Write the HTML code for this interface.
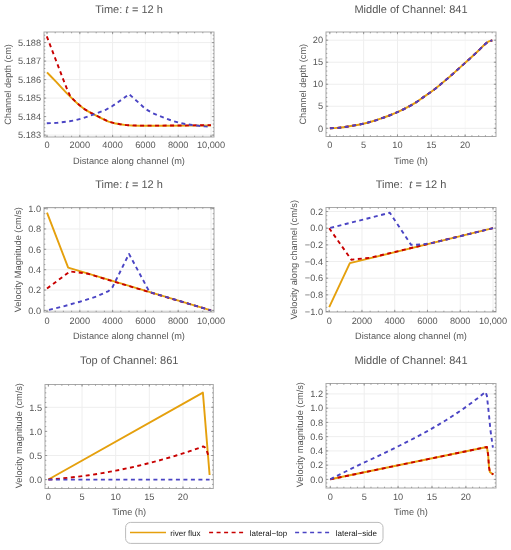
<!DOCTYPE html>
<html><head><meta charset="utf-8"><style>
html,body{margin:0;padding:0;background:#fff;}
svg{display:block;text-rendering:geometricPrecision;}
.t{font-family:'Liberation Sans', Arial, sans-serif;font-size:9.2px;fill:#555555;}
.h{font-family:'Liberation Sans', Arial, sans-serif;font-size:11px;fill:#555555;}
.it{font-family:'Liberation Serif',serif;font-style:italic;font-size:12.5px;}
.l{font-family:'Liberation Sans', Arial, sans-serif;font-size:8px;fill:#111;}
</style></head><body>
<svg width="511" height="550" viewBox="0 0 511 550">
<rect width="511" height="550" fill="#fff"/>
<line x1="79.8" y1="32" x2="79.8" y2="137" stroke="#EEEEEE" stroke-width="1"/>
<line x1="112.6" y1="32" x2="112.6" y2="137" stroke="#EEEEEE" stroke-width="1"/>
<line x1="145.4" y1="32" x2="145.4" y2="137" stroke="#F6F6F6" stroke-width="1"/>
<line x1="178.2" y1="32" x2="178.2" y2="137" stroke="#F7F7F7" stroke-width="1"/>
<line x1="211" y1="32" x2="211" y2="137" stroke="#EEEEEE" stroke-width="1"/>
<line x1="44" y1="135.1" x2="214" y2="135.1" stroke="#EEEEEE" stroke-width="1"/>
<line x1="44" y1="98.1" x2="214" y2="98.1" stroke="#EEEEEE" stroke-width="1"/>
<line x1="44" y1="79.6" x2="214" y2="79.6" stroke="#EEEEEE" stroke-width="1"/>
<line x1="44" y1="61.1" x2="214" y2="61.1" stroke="#EEEEEE" stroke-width="1"/>
<line x1="44" y1="42.6" x2="214" y2="42.6" stroke="#EEEEEE" stroke-width="1"/>
<polyline points="47,72.3 51,76.5 56.7,82.3 61.5,87.6 66.9,93.4 71,97.4 75.8,102 80,105.8 85,109.6 90.9,112.9 96.7,115.8 102.6,118.8 108.5,121.7 114.3,123.2 120.2,124.3 126.1,125.1 132,125.5 140,125.7 160,125.7 190,125.6 211,125.5" fill="none" stroke="#E5A00D" stroke-width="1.9" stroke-linejoin="round"/>
<polyline points="46.8,36.4 63.1,79.1 67.6,90.6 70,95.5 71,97.2 75.8,101.8 80,105.6 85,109.4 90.9,112.8 96.7,115.7 102.6,118.7 108.5,121.6 114.3,123.1 120.2,124.2 126.1,125 132,125.4 140,125.6 160,125.6 190,125.4 211,125.1" fill="none" stroke="#C80000" stroke-width="1.9" stroke-linejoin="round" stroke-dasharray="4.0,3.5"/>
<polyline points="46.8,123.3 56.7,122.9 69.5,121.3 76,120.1 82.2,118.4 88,116.5 92.4,114.9 99.1,112.3 106.1,109.6 112,106.3 117.9,102.3 123.7,98.2 129,94.1 134.3,98.8 140.2,104.1 145,108.6 151.6,112.6 158.3,115.5 165,118.2 171.8,120.6 178.5,122.6 185.2,124 192,125 198.7,125.8 205,126.4 211,126.8" fill="none" stroke="#4A44C4" stroke-width="1.9" stroke-linejoin="round" stroke-dasharray="4.0,3.5"/>
<rect x="44" y="32" width="170" height="105" fill="none" stroke="#A8A8A8" stroke-width="1"/>
<path d="M47,137v-2.2M47,32v2.2M79.8,137v-2.2M79.8,32v2.2M112.6,137v-2.2M112.6,32v2.2M145.4,137v-2.2M145.4,32v2.2M178.2,137v-2.2M178.2,32v2.2M211,137v-2.2M211,32v2.2M47,137v-1.3M47,32v1.3M55.2,137v-1.3M55.2,32v1.3M63.4,137v-1.3M63.4,32v1.3M71.6,137v-1.3M71.6,32v1.3M79.8,137v-1.3M79.8,32v1.3M88,137v-1.3M88,32v1.3M96.2,137v-1.3M96.2,32v1.3M104.4,137v-1.3M104.4,32v1.3M112.6,137v-1.3M112.6,32v1.3M120.8,137v-1.3M120.8,32v1.3M129,137v-1.3M129,32v1.3M137.2,137v-1.3M137.2,32v1.3M145.4,137v-1.3M145.4,32v1.3M153.6,137v-1.3M153.6,32v1.3M161.8,137v-1.3M161.8,32v1.3M170,137v-1.3M170,32v1.3M178.2,137v-1.3M178.2,32v1.3M186.4,137v-1.3M186.4,32v1.3M194.6,137v-1.3M194.6,32v1.3M202.8,137v-1.3M202.8,32v1.3M211,137v-1.3M211,32v1.3M44,135.1h2.2M214,135.1h-2.2M44,116.6h2.2M214,116.6h-2.2M44,98.1h2.2M214,98.1h-2.2M44,79.6h2.2M214,79.6h-2.2M44,61.1h2.2M214,61.1h-2.2M44,42.6h2.2M214,42.6h-2.2M44,135.1h1.3M214,135.1h-1.3M44,131.4h1.3M214,131.4h-1.3M44,127.7h1.3M214,127.7h-1.3M44,124h1.3M214,124h-1.3M44,120.3h1.3M214,120.3h-1.3M44,116.6h1.3M214,116.6h-1.3M44,112.9h1.3M214,112.9h-1.3M44,109.2h1.3M214,109.2h-1.3M44,105.5h1.3M214,105.5h-1.3M44,101.8h1.3M214,101.8h-1.3M44,98.1h1.3M214,98.1h-1.3M44,94.4h1.3M214,94.4h-1.3M44,90.7h1.3M214,90.7h-1.3M44,87h1.3M214,87h-1.3M44,83.3h1.3M214,83.3h-1.3M44,79.6h1.3M214,79.6h-1.3M44,75.9h1.3M214,75.9h-1.3M44,72.2h1.3M214,72.2h-1.3M44,68.5h1.3M214,68.5h-1.3M44,64.8h1.3M214,64.8h-1.3M44,61.1h1.3M214,61.1h-1.3M44,57.4h1.3M214,57.4h-1.3M44,53.7h1.3M214,53.7h-1.3M44,50h1.3M214,50h-1.3M44,46.3h1.3M214,46.3h-1.3M44,42.6h1.3M214,42.6h-1.3M44,38.9h1.3M214,38.9h-1.3M44,35.2h1.3M214,35.2h-1.3" stroke="#8C8C8C" stroke-width="0.8" fill="none"/>
<text x="47" y="148" text-anchor="middle" class="t">0</text>
<text x="79.8" y="148" text-anchor="middle" class="t">2000</text>
<text x="112.6" y="148" text-anchor="middle" class="t">4000</text>
<text x="145.4" y="148" text-anchor="middle" class="t">6000</text>
<text x="178.2" y="148" text-anchor="middle" class="t">8000</text>
<text x="211" y="148" text-anchor="middle" class="t">10,000</text>
<text x="41.0" y="138.3" text-anchor="end" class="t">5.183</text>
<text x="41.0" y="119.8" text-anchor="end" class="t">5.184</text>
<text x="41.0" y="101.3" text-anchor="end" class="t">5.185</text>
<text x="41.0" y="82.8" text-anchor="end" class="t">5.186</text>
<text x="41.0" y="64.3" text-anchor="end" class="t">5.187</text>
<text x="41.0" y="45.8" text-anchor="end" class="t">5.188</text>
<text x="129" y="163.7" text-anchor="middle" class="t">Distance along channel (m)</text>
<text transform="translate(10.8,84.5) rotate(-90)" text-anchor="middle" class="t">Channel depth (cm)</text>
<text x="129" y="12.6" text-anchor="middle" class="h">Time: <tspan class='it'>t</tspan> = 12 h</text>
<line x1="363.63" y1="32" x2="363.63" y2="136.5" stroke="#EEEEEE" stroke-width="1"/>
<line x1="397.47" y1="32" x2="397.47" y2="136.5" stroke="#EEEEEE" stroke-width="1"/>
<line x1="431.3" y1="32" x2="431.3" y2="136.5" stroke="#F4F4F4" stroke-width="1"/>
<line x1="465.13" y1="32" x2="465.13" y2="136.5" stroke="#F8F8F8" stroke-width="1"/>
<line x1="326" y1="128.3" x2="496" y2="128.3" stroke="#EEEEEE" stroke-width="1"/>
<line x1="326" y1="106.28" x2="496" y2="106.28" stroke="#EEEEEE" stroke-width="1"/>
<line x1="326" y1="84.25" x2="496" y2="84.25" stroke="#EEEEEE" stroke-width="1"/>
<line x1="326" y1="62.23" x2="496" y2="62.23" stroke="#EEEEEE" stroke-width="1"/>
<line x1="326" y1="40.2" x2="496" y2="40.2" stroke="#EEEEEE" stroke-width="1"/>
<path d="M329.9,128.3C331.02,128.23 334.32,128.08 336.6,127.9C338.88,127.72 340.97,127.55 343.6,127.2C346.23,126.85 349.12,126.38 352.4,125.8C355.68,125.22 360.07,124.42 363.3,123.7C366.53,122.98 368.92,122.33 371.8,121.5C374.68,120.67 377.67,119.7 380.6,118.7C383.53,117.7 386.62,116.58 389.4,115.5C392.18,114.42 394.65,113.38 397.3,112.2C399.95,111.02 402.18,110.03 405.3,108.4C408.42,106.77 412.92,104.32 416,102.4C419.08,100.48 421.2,98.72 423.8,96.9C426.4,95.08 428.98,93.45 431.6,91.5C434.22,89.55 436.88,87.32 439.5,85.2C442.12,83.08 444.7,81.02 447.3,78.8C449.9,76.58 452.5,74.22 455.1,71.9C457.7,69.58 460.28,67.25 462.9,64.9C465.52,62.55 468.18,60.2 470.8,57.8C473.42,55.4 476.33,52.67 478.6,50.5C480.87,48.33 482.87,46.22 484.4,44.8C485.93,43.38 486.78,42.67 487.8,42C488.82,41.33 489.75,41.05 490.5,40.8C491.25,40.55 492,40.55 492.3,40.5" fill="none" stroke="#E5A00D" stroke-width="1.9" stroke-linejoin="round"/>
<path d="M329.9,128.3C331.02,128.23 334.32,128.08 336.6,127.9C338.88,127.72 340.97,127.55 343.6,127.2C346.23,126.85 349.12,126.38 352.4,125.8C355.68,125.22 360.07,124.42 363.3,123.7C366.53,122.98 368.92,122.33 371.8,121.5C374.68,120.67 377.67,119.7 380.6,118.7C383.53,117.7 386.62,116.58 389.4,115.5C392.18,114.42 394.65,113.38 397.3,112.2C399.95,111.02 402.18,110.03 405.3,108.4C408.42,106.77 412.92,104.32 416,102.4C419.08,100.48 421.2,98.72 423.8,96.9C426.4,95.08 428.98,93.45 431.6,91.5C434.22,89.55 436.88,87.32 439.5,85.2C442.12,83.08 444.7,81.02 447.3,78.8C449.9,76.58 452.5,74.22 455.1,71.9C457.7,69.58 460.28,67.25 462.9,64.9C465.52,62.55 468.18,60.2 470.8,57.8C473.42,55.4 476.33,52.67 478.6,50.5C480.87,48.33 482.87,46.22 484.4,44.8C485.93,43.38 486.78,42.67 487.8,42C488.82,41.33 489.75,41.05 490.5,40.8C491.25,40.55 492,40.55 492.3,40.5" fill="none" stroke="#C80000" stroke-width="1.9" stroke-linejoin="round" stroke-dasharray="4.0,3.5"/>
<path d="M329.9,128.3C331.02,128.23 334.32,128.08 336.6,127.9C338.88,127.72 340.97,127.55 343.6,127.2C346.23,126.85 349.12,126.38 352.4,125.8C355.68,125.22 360.07,124.42 363.3,123.7C366.53,122.98 368.92,122.33 371.8,121.5C374.68,120.67 377.67,119.7 380.6,118.7C383.53,117.7 386.62,116.58 389.4,115.5C392.18,114.42 394.65,113.38 397.3,112.2C399.95,111.02 402.18,110.03 405.3,108.4C408.42,106.77 412.92,104.32 416,102.4C419.08,100.48 421.2,98.72 423.8,96.9C426.4,95.08 428.98,93.45 431.6,91.5C434.22,89.55 436.88,87.32 439.5,85.2C442.12,83.08 444.7,81.02 447.3,78.8C449.9,76.58 452.5,74.22 455.1,71.9C457.7,69.58 460.28,67.25 462.9,64.9C465.52,62.55 468.18,60.2 470.8,57.8C473.42,55.4 476.33,52.67 478.6,50.5C480.87,48.33 482.87,46.22 484.4,44.8C485.93,43.38 486.78,42.67 487.8,42C488.82,41.33 489.75,41.05 490.5,40.8C491.25,40.55 492,40.55 492.3,40.5" fill="none" stroke="#4A44C4" stroke-width="1.9" stroke-linejoin="round" stroke-dasharray="4.0,3.5"/>
<rect x="326" y="32" width="170" height="104.5" fill="none" stroke="#A8A8A8" stroke-width="1"/>
<path d="M329.8,136.5v-2.2M329.8,32v2.2M363.63,136.5v-2.2M363.63,32v2.2M397.47,136.5v-2.2M397.47,32v2.2M431.3,136.5v-2.2M431.3,32v2.2M465.13,136.5v-2.2M465.13,32v2.2M329.8,136.5v-1.3M329.8,32v1.3M336.57,136.5v-1.3M336.57,32v1.3M343.33,136.5v-1.3M343.33,32v1.3M350.1,136.5v-1.3M350.1,32v1.3M356.87,136.5v-1.3M356.87,32v1.3M363.63,136.5v-1.3M363.63,32v1.3M370.4,136.5v-1.3M370.4,32v1.3M377.17,136.5v-1.3M377.17,32v1.3M383.93,136.5v-1.3M383.93,32v1.3M390.7,136.5v-1.3M390.7,32v1.3M397.47,136.5v-1.3M397.47,32v1.3M404.23,136.5v-1.3M404.23,32v1.3M411,136.5v-1.3M411,32v1.3M417.77,136.5v-1.3M417.77,32v1.3M424.53,136.5v-1.3M424.53,32v1.3M431.3,136.5v-1.3M431.3,32v1.3M438.07,136.5v-1.3M438.07,32v1.3M444.83,136.5v-1.3M444.83,32v1.3M451.6,136.5v-1.3M451.6,32v1.3M458.37,136.5v-1.3M458.37,32v1.3M465.13,136.5v-1.3M465.13,32v1.3M471.9,136.5v-1.3M471.9,32v1.3M478.67,136.5v-1.3M478.67,32v1.3M485.43,136.5v-1.3M485.43,32v1.3M492.2,136.5v-1.3M492.2,32v1.3M326,128.3h2.2M496,128.3h-2.2M326,106.28h2.2M496,106.28h-2.2M326,84.25h2.2M496,84.25h-2.2M326,62.23h2.2M496,62.23h-2.2M326,40.2h2.2M496,40.2h-2.2M326,132.71h1.3M496,132.71h-1.3M326,128.3h1.3M496,128.3h-1.3M326,123.9h1.3M496,123.9h-1.3M326,119.49h1.3M496,119.49h-1.3M326,115.09h1.3M496,115.09h-1.3M326,110.68h1.3M496,110.68h-1.3M326,106.28h1.3M496,106.28h-1.3M326,101.87h1.3M496,101.87h-1.3M326,97.47h1.3M496,97.47h-1.3M326,93.06h1.3M496,93.06h-1.3M326,88.66h1.3M496,88.66h-1.3M326,84.25h1.3M496,84.25h-1.3M326,79.84h1.3M496,79.84h-1.3M326,75.44h1.3M496,75.44h-1.3M326,71.04h1.3M496,71.04h-1.3M326,66.63h1.3M496,66.63h-1.3M326,62.23h1.3M496,62.23h-1.3M326,57.82h1.3M496,57.82h-1.3M326,53.42h1.3M496,53.42h-1.3M326,49.01h1.3M496,49.01h-1.3M326,44.61h1.3M496,44.61h-1.3M326,40.2h1.3M496,40.2h-1.3M326,35.8h1.3M496,35.8h-1.3" stroke="#8C8C8C" stroke-width="0.8" fill="none"/>
<text x="329.8" y="148" text-anchor="middle" class="t">0</text>
<text x="363.63" y="148" text-anchor="middle" class="t">5</text>
<text x="397.47" y="148" text-anchor="middle" class="t">10</text>
<text x="431.3" y="148" text-anchor="middle" class="t">15</text>
<text x="465.13" y="148" text-anchor="middle" class="t">20</text>
<text x="323.0" y="131.5" text-anchor="end" class="t">0</text>
<text x="323.0" y="109.48" text-anchor="end" class="t">5</text>
<text x="323.0" y="87.45" text-anchor="end" class="t">10</text>
<text x="323.0" y="65.43" text-anchor="end" class="t">15</text>
<text x="323.0" y="43.4" text-anchor="end" class="t">20</text>
<text x="411" y="163.7" text-anchor="middle" class="t">Time (h)</text>
<text transform="translate(305.6,84.25) rotate(-90)" text-anchor="middle" class="t">Channel depth (cm)</text>
<text x="411" y="12.6" text-anchor="middle" class="h">Middle of Channel: 841</text>
<line x1="79.8" y1="207.5" x2="79.8" y2="312" stroke="#EEEEEE" stroke-width="1"/>
<line x1="112.6" y1="207.5" x2="112.6" y2="312" stroke="#EEEEEE" stroke-width="1"/>
<line x1="145.4" y1="207.5" x2="145.4" y2="312" stroke="#F6F6F6" stroke-width="1"/>
<line x1="178.2" y1="207.5" x2="178.2" y2="312" stroke="#F7F7F7" stroke-width="1"/>
<line x1="211" y1="207.5" x2="211" y2="312" stroke="#EEEEEE" stroke-width="1"/>
<line x1="44" y1="310.4" x2="214" y2="310.4" stroke="#EEEEEE" stroke-width="1"/>
<line x1="44" y1="290.04" x2="214" y2="290.04" stroke="#EEEEEE" stroke-width="1"/>
<line x1="44" y1="269.68" x2="214" y2="269.68" stroke="#EEEEEE" stroke-width="1"/>
<line x1="44" y1="249.32" x2="214" y2="249.32" stroke="#EEEEEE" stroke-width="1"/>
<line x1="44" y1="228.96" x2="214" y2="228.96" stroke="#EEEEEE" stroke-width="1"/>
<line x1="44" y1="208.6" x2="214" y2="208.6" stroke="#EEEEEE" stroke-width="1"/>
<polyline points="47,212.67 68.16,267.64 211,310.4" fill="none" stroke="#E5A00D" stroke-width="1.9" stroke-linejoin="round"/>
<polyline points="47,288.51 69.96,271.41 88,273.75 112.6,281.22 211,310.4" fill="none" stroke="#C80000" stroke-width="1.9" stroke-linejoin="round" stroke-dasharray="4.0,3.5"/>
<polyline points="47,310.4 63.4,306.33 79.8,301.75 96.2,296.66 108.5,291.06 112.6,286.99 129,253.9 149.5,291.97 211,310.4" fill="none" stroke="#4A44C4" stroke-width="1.9" stroke-linejoin="round" stroke-dasharray="4.0,3.5" stroke-dashoffset="5.46"/>
<rect x="44" y="207.5" width="170" height="104.5" fill="none" stroke="#A8A8A8" stroke-width="1"/>
<path d="M47,312v-2.2M47,207.5v2.2M79.8,312v-2.2M79.8,207.5v2.2M112.6,312v-2.2M112.6,207.5v2.2M145.4,312v-2.2M145.4,207.5v2.2M178.2,312v-2.2M178.2,207.5v2.2M211,312v-2.2M211,207.5v2.2M47,312v-1.3M47,207.5v1.3M55.2,312v-1.3M55.2,207.5v1.3M63.4,312v-1.3M63.4,207.5v1.3M71.6,312v-1.3M71.6,207.5v1.3M79.8,312v-1.3M79.8,207.5v1.3M88,312v-1.3M88,207.5v1.3M96.2,312v-1.3M96.2,207.5v1.3M104.4,312v-1.3M104.4,207.5v1.3M112.6,312v-1.3M112.6,207.5v1.3M120.8,312v-1.3M120.8,207.5v1.3M129,312v-1.3M129,207.5v1.3M137.2,312v-1.3M137.2,207.5v1.3M145.4,312v-1.3M145.4,207.5v1.3M153.6,312v-1.3M153.6,207.5v1.3M161.8,312v-1.3M161.8,207.5v1.3M170,312v-1.3M170,207.5v1.3M178.2,312v-1.3M178.2,207.5v1.3M186.4,312v-1.3M186.4,207.5v1.3M194.6,312v-1.3M194.6,207.5v1.3M202.8,312v-1.3M202.8,207.5v1.3M211,312v-1.3M211,207.5v1.3M44,310.4h2.2M214,310.4h-2.2M44,290.04h2.2M214,290.04h-2.2M44,269.68h2.2M214,269.68h-2.2M44,249.32h2.2M214,249.32h-2.2M44,228.96h2.2M214,228.96h-2.2M44,208.6h2.2M214,208.6h-2.2M44,310.4h1.3M214,310.4h-1.3M44,305.31h1.3M214,305.31h-1.3M44,300.22h1.3M214,300.22h-1.3M44,295.13h1.3M214,295.13h-1.3M44,290.04h1.3M214,290.04h-1.3M44,284.95h1.3M214,284.95h-1.3M44,279.86h1.3M214,279.86h-1.3M44,274.77h1.3M214,274.77h-1.3M44,269.68h1.3M214,269.68h-1.3M44,264.59h1.3M214,264.59h-1.3M44,259.5h1.3M214,259.5h-1.3M44,254.41h1.3M214,254.41h-1.3M44,249.32h1.3M214,249.32h-1.3M44,244.23h1.3M214,244.23h-1.3M44,239.14h1.3M214,239.14h-1.3M44,234.05h1.3M214,234.05h-1.3M44,228.96h1.3M214,228.96h-1.3M44,223.87h1.3M214,223.87h-1.3M44,218.78h1.3M214,218.78h-1.3M44,213.69h1.3M214,213.69h-1.3M44,208.6h1.3M214,208.6h-1.3" stroke="#8C8C8C" stroke-width="0.8" fill="none"/>
<text x="47" y="323.5" text-anchor="middle" class="t">0</text>
<text x="79.8" y="323.5" text-anchor="middle" class="t">2000</text>
<text x="112.6" y="323.5" text-anchor="middle" class="t">4000</text>
<text x="145.4" y="323.5" text-anchor="middle" class="t">6000</text>
<text x="178.2" y="323.5" text-anchor="middle" class="t">8000</text>
<text x="211" y="323.5" text-anchor="middle" class="t">10,000</text>
<text x="41.0" y="313.6" text-anchor="end" class="t">0.0</text>
<text x="41.0" y="293.24" text-anchor="end" class="t">0.2</text>
<text x="41.0" y="272.88" text-anchor="end" class="t">0.4</text>
<text x="41.0" y="252.52" text-anchor="end" class="t">0.6</text>
<text x="41.0" y="232.16" text-anchor="end" class="t">0.8</text>
<text x="41.0" y="211.8" text-anchor="end" class="t">1.0</text>
<text x="129" y="339.4" text-anchor="middle" class="t">Distance along channel (m)</text>
<text transform="translate(21,259.75) rotate(-90)" text-anchor="middle" class="t">Velocity Magnitude (cm/s)</text>
<text x="129" y="187.9" text-anchor="middle" class="h">Time: <tspan class='it'>t</tspan> = 12 h</text>
<line x1="361.96" y1="207.5" x2="361.96" y2="312" stroke="#EEEEEE" stroke-width="1"/>
<line x1="394.72" y1="207.5" x2="394.72" y2="312" stroke="#EEEEEE" stroke-width="1"/>
<line x1="427.48" y1="207.5" x2="427.48" y2="312" stroke="#EEEEEE" stroke-width="1"/>
<line x1="460.24" y1="207.5" x2="460.24" y2="312" stroke="#EEEEEE" stroke-width="1"/>
<line x1="493" y1="207.5" x2="493" y2="312" stroke="#EEEEEE" stroke-width="1"/>
<line x1="326" y1="311.5" x2="496" y2="311.5" stroke="#EEEEEE" stroke-width="1"/>
<line x1="326" y1="294.84" x2="496" y2="294.84" stroke="#EEEEEE" stroke-width="1"/>
<line x1="326" y1="278.18" x2="496" y2="278.18" stroke="#EEEEEE" stroke-width="1"/>
<line x1="326" y1="261.52" x2="496" y2="261.52" stroke="#EEEEEE" stroke-width="1"/>
<line x1="326" y1="244.86" x2="496" y2="244.86" stroke="#EEEEEE" stroke-width="1"/>
<line x1="326" y1="228.2" x2="496" y2="228.2" stroke="#EEEEEE" stroke-width="1"/>
<line x1="326" y1="211.54" x2="496" y2="211.54" stroke="#EEEEEE" stroke-width="1"/>
<polyline points="329.2,307.17 349.84,263.19 493,228.2" fill="none" stroke="#E5A00D" stroke-width="1.9" stroke-linejoin="round"/>
<polyline points="329.2,228.2 351.31,259.69 370.15,257.77 394.72,251.97 493,228.2" fill="none" stroke="#C80000" stroke-width="1.9" stroke-linejoin="round" stroke-dasharray="4.0,3.5"/>
<polyline points="329.2,228.2 389.81,212.79 411.1,244.86 422.57,244.44 434.03,242.61 493,228.2" fill="none" stroke="#4A44C4" stroke-width="1.9" stroke-linejoin="round" stroke-dasharray="4.0,3.5" stroke-dashoffset="6.49"/>
<rect x="326" y="207.5" width="170" height="104.5" fill="none" stroke="#A8A8A8" stroke-width="1"/>
<path d="M329.2,312v-2.2M329.2,207.5v2.2M361.96,312v-2.2M361.96,207.5v2.2M394.72,312v-2.2M394.72,207.5v2.2M427.48,312v-2.2M427.48,207.5v2.2M460.24,312v-2.2M460.24,207.5v2.2M493,312v-2.2M493,207.5v2.2M329.2,312v-1.3M329.2,207.5v1.3M337.39,312v-1.3M337.39,207.5v1.3M345.58,312v-1.3M345.58,207.5v1.3M353.77,312v-1.3M353.77,207.5v1.3M361.96,312v-1.3M361.96,207.5v1.3M370.15,312v-1.3M370.15,207.5v1.3M378.34,312v-1.3M378.34,207.5v1.3M386.53,312v-1.3M386.53,207.5v1.3M394.72,312v-1.3M394.72,207.5v1.3M402.91,312v-1.3M402.91,207.5v1.3M411.1,312v-1.3M411.1,207.5v1.3M419.29,312v-1.3M419.29,207.5v1.3M427.48,312v-1.3M427.48,207.5v1.3M435.67,312v-1.3M435.67,207.5v1.3M443.86,312v-1.3M443.86,207.5v1.3M452.05,312v-1.3M452.05,207.5v1.3M460.24,312v-1.3M460.24,207.5v1.3M468.43,312v-1.3M468.43,207.5v1.3M476.62,312v-1.3M476.62,207.5v1.3M484.81,312v-1.3M484.81,207.5v1.3M493,312v-1.3M493,207.5v1.3M326,311.5h2.2M496,311.5h-2.2M326,294.84h2.2M496,294.84h-2.2M326,278.18h2.2M496,278.18h-2.2M326,261.52h2.2M496,261.52h-2.2M326,244.86h2.2M496,244.86h-2.2M326,228.2h2.2M496,228.2h-2.2M326,211.54h2.2M496,211.54h-2.2M326,311.5h1.3M496,311.5h-1.3M326,307.33h1.3M496,307.33h-1.3M326,303.17h1.3M496,303.17h-1.3M326,299h1.3M496,299h-1.3M326,294.84h1.3M496,294.84h-1.3M326,290.68h1.3M496,290.68h-1.3M326,286.51h1.3M496,286.51h-1.3M326,282.35h1.3M496,282.35h-1.3M326,278.18h1.3M496,278.18h-1.3M326,274.01h1.3M496,274.01h-1.3M326,269.85h1.3M496,269.85h-1.3M326,265.69h1.3M496,265.69h-1.3M326,261.52h1.3M496,261.52h-1.3M326,257.36h1.3M496,257.36h-1.3M326,253.19h1.3M496,253.19h-1.3M326,249.02h1.3M496,249.02h-1.3M326,244.86h1.3M496,244.86h-1.3M326,240.69h1.3M496,240.69h-1.3M326,236.53h1.3M496,236.53h-1.3M326,232.36h1.3M496,232.36h-1.3M326,228.2h1.3M496,228.2h-1.3M326,224.03h1.3M496,224.03h-1.3M326,219.87h1.3M496,219.87h-1.3M326,215.7h1.3M496,215.7h-1.3M326,211.54h1.3M496,211.54h-1.3" stroke="#8C8C8C" stroke-width="0.8" fill="none"/>
<text x="329.2" y="323.5" text-anchor="middle" class="t">0</text>
<text x="361.96" y="323.5" text-anchor="middle" class="t">2000</text>
<text x="394.72" y="323.5" text-anchor="middle" class="t">4000</text>
<text x="427.48" y="323.5" text-anchor="middle" class="t">6000</text>
<text x="460.24" y="323.5" text-anchor="middle" class="t">8000</text>
<text x="493" y="323.5" text-anchor="middle" class="t">10,000</text>
<text x="323.0" y="314.7" text-anchor="end" class="t">−1.0</text>
<text x="323.0" y="298.04" text-anchor="end" class="t">−0.8</text>
<text x="323.0" y="281.38" text-anchor="end" class="t">−0.6</text>
<text x="323.0" y="264.72" text-anchor="end" class="t">−0.4</text>
<text x="323.0" y="248.06" text-anchor="end" class="t">−0.2</text>
<text x="323.0" y="231.4" text-anchor="end" class="t">0.0</text>
<text x="323.0" y="214.74" text-anchor="end" class="t">0.2</text>
<text x="411" y="339.4" text-anchor="middle" class="t">Distance along channel (m)</text>
<text transform="translate(297.4,259.75) rotate(-90)" text-anchor="middle" class="t">Velocity along channel (cm/s)</text>
<text x="411" y="187.9" text-anchor="middle" class="h">Time:&#160; <tspan class='it'>t</tspan> = 12 h</text>
<line x1="82.05" y1="384.5" x2="82.05" y2="488.5" stroke="#EEEEEE" stroke-width="1"/>
<line x1="115.69" y1="384.5" x2="115.69" y2="488.5" stroke="#EEEEEE" stroke-width="1"/>
<line x1="149.34" y1="384.5" x2="149.34" y2="488.5" stroke="#EEEEEE" stroke-width="1"/>
<line x1="182.98" y1="384.5" x2="182.98" y2="488.5" stroke="#EEEEEE" stroke-width="1"/>
<line x1="45" y1="455.5" x2="213.3" y2="455.5" stroke="#EEEEEE" stroke-width="1"/>
<line x1="45" y1="407.3" x2="213.3" y2="407.3" stroke="#EEEEEE" stroke-width="1"/>
<polyline points="48.4,479.5 202.9,392.6 209.6,475" fill="none" stroke="#E5A00D" stroke-width="1.9" stroke-linejoin="round"/>
<polyline points="48.4,479.5 55.13,479 61.86,478.41 68.59,477.74 75.32,476.99 82.05,476.15 88.78,475.22 95.51,474.21 102.24,473.11 108.97,471.93 115.7,470.67 122.43,469.32 129.16,467.89 135.89,466.37 142.62,464.76 149.35,463.07 156.08,461.3 162.81,459.44 169.54,457.5 176.27,455.47 183,453.36 189.73,451.16 196.46,448.88 203.19,446.51 204.3,446.8 206,448.6 208.9,457.2" fill="none" stroke="#C80000" stroke-width="1.9" stroke-linejoin="round" stroke-dasharray="4.0,3.5"/>
<polyline points="48.4,479.6 209.6,479.6" fill="none" stroke="#4A44C4" stroke-width="1.9" stroke-linejoin="round" stroke-dasharray="4.0,3.5"/>
<rect x="45" y="384.5" width="168.3" height="104.0" fill="none" stroke="#A8A8A8" stroke-width="1"/>
<path d="M48.4,488.5v-2.2M48.4,384.5v2.2M82.05,488.5v-2.2M82.05,384.5v2.2M115.69,488.5v-2.2M115.69,384.5v2.2M149.34,488.5v-2.2M149.34,384.5v2.2M182.98,488.5v-2.2M182.98,384.5v2.2M48.4,488.5v-1.3M48.4,384.5v1.3M55.13,488.5v-1.3M55.13,384.5v1.3M61.86,488.5v-1.3M61.86,384.5v1.3M68.59,488.5v-1.3M68.59,384.5v1.3M75.32,488.5v-1.3M75.32,384.5v1.3M82.05,488.5v-1.3M82.05,384.5v1.3M88.78,488.5v-1.3M88.78,384.5v1.3M95.5,488.5v-1.3M95.5,384.5v1.3M102.23,488.5v-1.3M102.23,384.5v1.3M108.96,488.5v-1.3M108.96,384.5v1.3M115.69,488.5v-1.3M115.69,384.5v1.3M122.42,488.5v-1.3M122.42,384.5v1.3M129.15,488.5v-1.3M129.15,384.5v1.3M135.88,488.5v-1.3M135.88,384.5v1.3M142.61,488.5v-1.3M142.61,384.5v1.3M149.34,488.5v-1.3M149.34,384.5v1.3M156.07,488.5v-1.3M156.07,384.5v1.3M162.8,488.5v-1.3M162.8,384.5v1.3M169.53,488.5v-1.3M169.53,384.5v1.3M176.25,488.5v-1.3M176.25,384.5v1.3M182.98,488.5v-1.3M182.98,384.5v1.3M189.71,488.5v-1.3M189.71,384.5v1.3M196.44,488.5v-1.3M196.44,384.5v1.3M203.17,488.5v-1.3M203.17,384.5v1.3M209.9,488.5v-1.3M209.9,384.5v1.3M45,479.6h2.2M213.3,479.6h-2.2M45,455.5h2.2M213.3,455.5h-2.2M45,431.4h2.2M213.3,431.4h-2.2M45,407.3h2.2M213.3,407.3h-2.2M45,484.42h1.3M213.3,484.42h-1.3M45,479.6h1.3M213.3,479.6h-1.3M45,474.78h1.3M213.3,474.78h-1.3M45,469.96h1.3M213.3,469.96h-1.3M45,465.14h1.3M213.3,465.14h-1.3M45,460.32h1.3M213.3,460.32h-1.3M45,455.5h1.3M213.3,455.5h-1.3M45,450.68h1.3M213.3,450.68h-1.3M45,445.86h1.3M213.3,445.86h-1.3M45,441.04h1.3M213.3,441.04h-1.3M45,436.22h1.3M213.3,436.22h-1.3M45,431.4h1.3M213.3,431.4h-1.3M45,426.58h1.3M213.3,426.58h-1.3M45,421.76h1.3M213.3,421.76h-1.3M45,416.94h1.3M213.3,416.94h-1.3M45,412.12h1.3M213.3,412.12h-1.3M45,407.3h1.3M213.3,407.3h-1.3M45,402.48h1.3M213.3,402.48h-1.3M45,397.66h1.3M213.3,397.66h-1.3M45,392.84h1.3M213.3,392.84h-1.3M45,388.02h1.3M213.3,388.02h-1.3" stroke="#8C8C8C" stroke-width="0.8" fill="none"/>
<text x="48.4" y="500" text-anchor="middle" class="t">0</text>
<text x="82.05" y="500" text-anchor="middle" class="t">5</text>
<text x="115.69" y="500" text-anchor="middle" class="t">10</text>
<text x="149.34" y="500" text-anchor="middle" class="t">15</text>
<text x="182.98" y="500" text-anchor="middle" class="t">20</text>
<text x="42.0" y="482.8" text-anchor="end" class="t">0.0</text>
<text x="42.0" y="458.7" text-anchor="end" class="t">0.5</text>
<text x="42.0" y="434.6" text-anchor="end" class="t">1.0</text>
<text x="42.0" y="410.5" text-anchor="end" class="t">1.5</text>
<text x="129.15" y="514.8" text-anchor="middle" class="t">Time (h)</text>
<text transform="translate(21.8,435.7) rotate(-90)" text-anchor="middle" class="t">Velocity magnitude (cm/s)</text>
<text x="129.15" y="363.6" text-anchor="middle" class="h">Top of Channel: 861</text>
<line x1="364.2" y1="383.5" x2="364.2" y2="488" stroke="#EEEEEE" stroke-width="1"/>
<line x1="398.09" y1="383.5" x2="398.09" y2="488" stroke="#EEEEEE" stroke-width="1"/>
<line x1="431.99" y1="383.5" x2="431.99" y2="488" stroke="#F4F4F4" stroke-width="1"/>
<line x1="465.88" y1="383.5" x2="465.88" y2="488" stroke="#F8F8F8" stroke-width="1"/>
<line x1="326" y1="479.4" x2="496" y2="479.4" stroke="#EEEEEE" stroke-width="1"/>
<line x1="326" y1="465.15" x2="496" y2="465.15" stroke="#EEEEEE" stroke-width="1"/>
<line x1="326" y1="450.9" x2="496" y2="450.9" stroke="#EEEEEE" stroke-width="1"/>
<line x1="326" y1="436.65" x2="496" y2="436.65" stroke="#EEEEEE" stroke-width="1"/>
<line x1="326" y1="422.4" x2="496" y2="422.4" stroke="#EEEEEE" stroke-width="1"/>
<line x1="326" y1="408.15" x2="496" y2="408.15" stroke="#EEEEEE" stroke-width="1"/>
<line x1="326" y1="393.9" x2="496" y2="393.9" stroke="#EEEEEE" stroke-width="1"/>
<polyline points="330.3,479.3 486.9,447 488.1,454.5 489,467 489.9,472 491.8,473.4 493.4,474.6" fill="none" stroke="#E5A00D" stroke-width="1.9" stroke-linejoin="round"/>
<polyline points="330.3,479.3 486.9,447 488.1,454.5 489,467 489.9,472 491.8,473.4 493.4,474.6" fill="none" stroke="#C80000" stroke-width="1.9" stroke-linejoin="round" stroke-dasharray="4.0,3.5"/>
<polyline points="330.3,479.3 336.77,475.97 343.24,472.73 349.71,469.55 356.18,466.41 362.65,463.32 369.12,460.24 375.6,457.17 382.07,454.1 388.54,451 395.01,447.86 401.48,444.68 407.95,441.42 414.42,438.09 420.89,434.66 427.36,431.12 433.83,427.45 440.3,423.65 446.78,419.69 453.25,415.57 459.72,411.26 466.19,406.76 472.66,402.04 479.13,397.1 485.6,391.92 486.9,395.9 488.7,412.3 490.5,430.5 492.9,447.7" fill="none" stroke="#4A44C4" stroke-width="1.9" stroke-linejoin="round" stroke-dasharray="4.0,3.5"/>
<rect x="326" y="383.5" width="170" height="104.5" fill="none" stroke="#A8A8A8" stroke-width="1"/>
<path d="M330.3,488v-2.2M330.3,383.5v2.2M364.2,488v-2.2M364.2,383.5v2.2M398.09,488v-2.2M398.09,383.5v2.2M431.99,488v-2.2M431.99,383.5v2.2M465.88,488v-2.2M465.88,383.5v2.2M330.3,488v-1.3M330.3,383.5v1.3M337.08,488v-1.3M337.08,383.5v1.3M343.86,488v-1.3M343.86,383.5v1.3M350.64,488v-1.3M350.64,383.5v1.3M357.42,488v-1.3M357.42,383.5v1.3M364.2,488v-1.3M364.2,383.5v1.3M370.98,488v-1.3M370.98,383.5v1.3M377.75,488v-1.3M377.75,383.5v1.3M384.53,488v-1.3M384.53,383.5v1.3M391.31,488v-1.3M391.31,383.5v1.3M398.09,488v-1.3M398.09,383.5v1.3M404.87,488v-1.3M404.87,383.5v1.3M411.65,488v-1.3M411.65,383.5v1.3M418.43,488v-1.3M418.43,383.5v1.3M425.21,488v-1.3M425.21,383.5v1.3M431.99,488v-1.3M431.99,383.5v1.3M438.77,488v-1.3M438.77,383.5v1.3M445.55,488v-1.3M445.55,383.5v1.3M452.32,488v-1.3M452.32,383.5v1.3M459.1,488v-1.3M459.1,383.5v1.3M465.88,488v-1.3M465.88,383.5v1.3M472.66,488v-1.3M472.66,383.5v1.3M479.44,488v-1.3M479.44,383.5v1.3M486.22,488v-1.3M486.22,383.5v1.3M493,488v-1.3M493,383.5v1.3M326,479.4h2.2M496,479.4h-2.2M326,465.15h2.2M496,465.15h-2.2M326,450.9h2.2M496,450.9h-2.2M326,436.65h2.2M496,436.65h-2.2M326,422.4h2.2M496,422.4h-2.2M326,408.15h2.2M496,408.15h-2.2M326,393.9h2.2M496,393.9h-2.2M326,486.52h1.3M496,486.52h-1.3M326,482.96h1.3M496,482.96h-1.3M326,479.4h1.3M496,479.4h-1.3M326,475.84h1.3M496,475.84h-1.3M326,472.27h1.3M496,472.27h-1.3M326,468.71h1.3M496,468.71h-1.3M326,465.15h1.3M496,465.15h-1.3M326,461.59h1.3M496,461.59h-1.3M326,458.02h1.3M496,458.02h-1.3M326,454.46h1.3M496,454.46h-1.3M326,450.9h1.3M496,450.9h-1.3M326,447.34h1.3M496,447.34h-1.3M326,443.77h1.3M496,443.77h-1.3M326,440.21h1.3M496,440.21h-1.3M326,436.65h1.3M496,436.65h-1.3M326,433.09h1.3M496,433.09h-1.3M326,429.52h1.3M496,429.52h-1.3M326,425.96h1.3M496,425.96h-1.3M326,422.4h1.3M496,422.4h-1.3M326,418.84h1.3M496,418.84h-1.3M326,415.27h1.3M496,415.27h-1.3M326,411.71h1.3M496,411.71h-1.3M326,408.15h1.3M496,408.15h-1.3M326,404.59h1.3M496,404.59h-1.3M326,401.02h1.3M496,401.02h-1.3M326,397.46h1.3M496,397.46h-1.3M326,393.9h1.3M496,393.9h-1.3M326,390.34h1.3M496,390.34h-1.3M326,386.77h1.3M496,386.77h-1.3" stroke="#8C8C8C" stroke-width="0.8" fill="none"/>
<text x="330.3" y="500" text-anchor="middle" class="t">0</text>
<text x="364.2" y="500" text-anchor="middle" class="t">5</text>
<text x="398.09" y="500" text-anchor="middle" class="t">10</text>
<text x="431.99" y="500" text-anchor="middle" class="t">15</text>
<text x="465.88" y="500" text-anchor="middle" class="t">20</text>
<text x="323.0" y="482.6" text-anchor="end" class="t">0.0</text>
<text x="323.0" y="468.35" text-anchor="end" class="t">0.2</text>
<text x="323.0" y="454.1" text-anchor="end" class="t">0.4</text>
<text x="323.0" y="439.85" text-anchor="end" class="t">0.6</text>
<text x="323.0" y="425.6" text-anchor="end" class="t">0.8</text>
<text x="323.0" y="411.35" text-anchor="end" class="t">1.0</text>
<text x="323.0" y="397.1" text-anchor="end" class="t">1.2</text>
<text x="411" y="514.8" text-anchor="middle" class="t">Time (h)</text>
<text transform="translate(303,434.75) rotate(-90)" text-anchor="middle" class="t">Velocity magnitude (cm/s)</text>
<text x="411" y="363.6" text-anchor="middle" class="h">Middle of Channel: 841</text>
<rect x="125.6" y="522.4" width="257.4" height="21" rx="5" ry="5" fill="#fff" stroke="#BBBBBB" stroke-width="1"/>
<line x1="130" y1="532.5" x2="166" y2="532.5" stroke="#E5A00D" stroke-width="1.6"/>
<text x="170.3" y="535.6" class="l">river flux</text>
<line x1="209.1" y1="532.5" x2="243.3" y2="532.5" stroke="#C80000" stroke-width="1.6" stroke-dasharray="4.0,3.5"/>
<text x="249.7" y="535.6" class="l">lateral−top</text>
<line x1="295.1" y1="532.5" x2="329.3" y2="532.5" stroke="#4A44C4" stroke-width="1.6" stroke-dasharray="4.0,3.5"/>
<text x="335.8" y="535.6" class="l">lateral−side</text>
</svg>
</body></html>
